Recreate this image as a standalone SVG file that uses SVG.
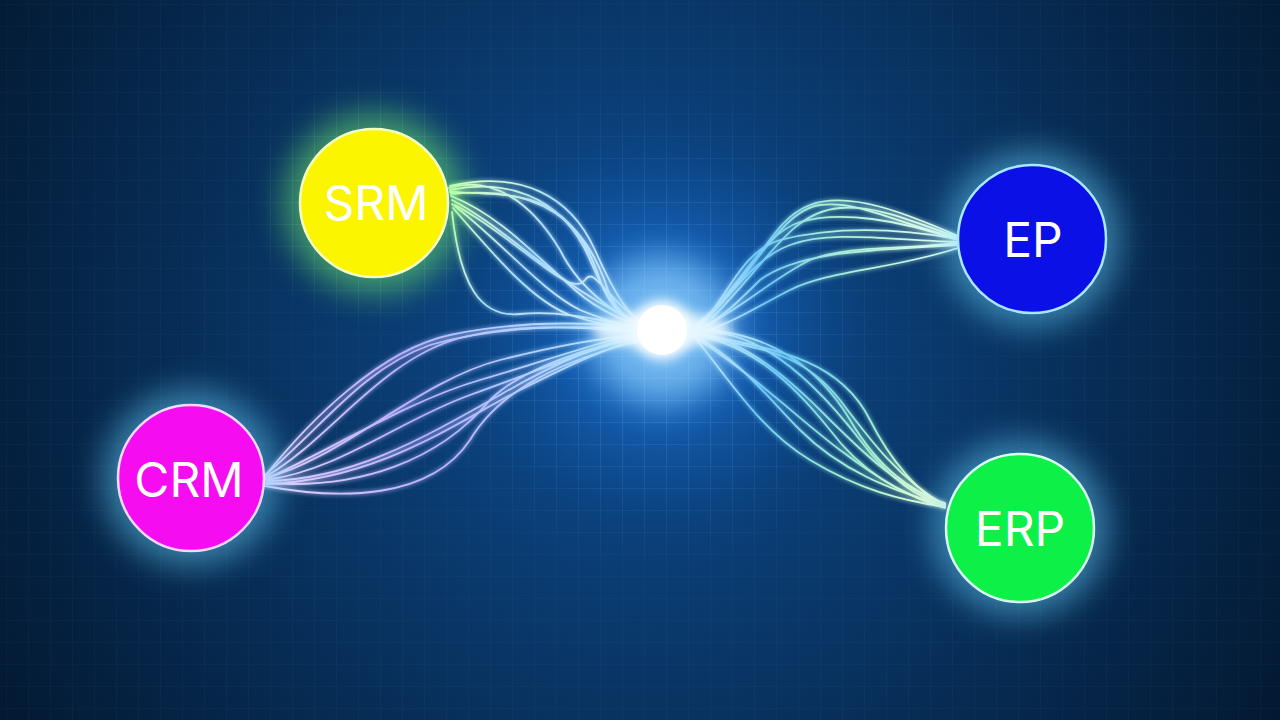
<svg xmlns="http://www.w3.org/2000/svg" width="1280" height="720" viewBox="0 0 1280 720">
<defs>
<radialGradient id="bg" cx="640" cy="330" r="760" gradientUnits="userSpaceOnUse">
<stop offset="0" stop-color="#0d4f98"/>
<stop offset="0.35" stop-color="#0a3b70"/>
<stop offset="0.7" stop-color="#06284d"/>
<stop offset="1" stop-color="#031830"/>
</radialGradient>
<radialGradient id="hubGlow" cx="662" cy="330" r="210" gradientUnits="userSpaceOnUse">
<stop offset="0" stop-color="#5ab8ff" stop-opacity="0.95"/>
<stop offset="0.3" stop-color="#1e78e0" stop-opacity="0.65"/>
<stop offset="1" stop-color="#0d4f98" stop-opacity="0"/>
</radialGradient>
<radialGradient id="gridMaskGrad" cx="662" cy="330" r="240" gradientUnits="userSpaceOnUse">
<stop offset="0" stop-color="#fff" stop-opacity="1"/>
<stop offset="1" stop-color="#fff" stop-opacity="0"/>
</radialGradient>
<radialGradient id="srmGridGrad" cx="374" cy="203" r="130" gradientUnits="userSpaceOnUse">
<stop offset="0" stop-color="#fff" stop-opacity="1"/>
<stop offset="1" stop-color="#fff" stop-opacity="0"/>
</radialGradient>
<pattern id="grid" width="22" height="22" patternUnits="userSpaceOnUse" x="7" y="5">
<path d="M22 0 V22 M0 22 H22" fill="none" stroke="#8cc8ff" stroke-width="1.2"/>
</pattern>
<pattern id="gridG" width="22" height="22" patternUnits="userSpaceOnUse" x="7" y="5">
<path d="M22 0 V22 M0 22 H22" fill="none" stroke="#b8ffa0" stroke-width="1.2"/>
</pattern>
<mask id="gridMask">
<rect width="1280" height="720" fill="url(#gridMaskGrad)"/>
</mask>
<mask id="srmGridMask">
<rect width="1280" height="720" fill="url(#srmGridGrad)"/>
</mask>
<filter id="blur20" x="-1" y="-1" width="3" height="3"><feGaussianBlur stdDeviation="16"/></filter>
<filter id="blur6" x="-1" y="-1" width="3" height="3"><feGaussianBlur stdDeviation="6"/></filter>
<filter id="strandGlow" x="-0.2" y="-0.2" width="1.4" height="1.4">
<feGaussianBlur in="SourceGraphic" stdDeviation="2.2" result="b"/>
<feMerge><feMergeNode in="b"/><feMergeNode in="SourceGraphic"/></feMerge>
</filter>
<linearGradient id="gSRM" x1="450" y1="200" x2="660" y2="330" gradientUnits="userSpaceOnUse">
<stop offset="0" stop-color="#d8ffc8"/>
<stop offset="0.4" stop-color="#a8dcff"/>
<stop offset="1" stop-color="#e8f6ff"/>
</linearGradient>
<linearGradient id="gCRM" x1="265" y1="480" x2="660" y2="330" gradientUnits="userSpaceOnUse">
<stop offset="0" stop-color="#e0d0ff"/>
<stop offset="0.4" stop-color="#b8b0ff"/>
<stop offset="0.8" stop-color="#b0dcff"/>
<stop offset="1" stop-color="#ffffff"/>
</linearGradient>
<linearGradient id="gEP" x1="958" y1="240" x2="690" y2="330" gradientUnits="userSpaceOnUse">
<stop offset="0" stop-color="#e8fff0"/>
<stop offset="0.4" stop-color="#a8f0d8"/>
<stop offset="0.7" stop-color="#70c8f8"/>
<stop offset="1" stop-color="#e8f6ff"/>
</linearGradient>
<linearGradient id="gERP" x1="945" y1="505" x2="690" y2="330" gradientUnits="userSpaceOnUse">
<stop offset="0" stop-color="#f0ffd8"/>
<stop offset="0.3" stop-color="#a0f0d0"/>
<stop offset="0.7" stop-color="#70ccf8"/>
<stop offset="1" stop-color="#e8f6ff"/>
</linearGradient>
<style>
.strand{fill:none;stroke-width:1.8;stroke-linecap:round}
.srm{stroke:url(#gSRM)}
.crm{stroke:url(#gCRM)}
.ep{stroke:url(#gEP)}
.erp{stroke:url(#gERP)}
.node{stroke-width:2.5}
.label{font-family:Inter,"Noto Sans","Liberation Sans",sans-serif;font-size:48px;font-weight:400;fill:#ffffff;text-anchor:middle}
</style>
</defs>

<g id="background">
<rect width="1280" height="720" fill="url(#bg)"/>
<rect width="1280" height="720" fill="url(#grid)" opacity="0.06"/>
<rect width="1280" height="720" fill="url(#hubGlow)"/>
<rect width="1280" height="720" fill="url(#grid)" opacity="0.38" mask="url(#gridMask)"/>
<rect width="1280" height="720" fill="url(#gridG)" opacity="0.3" mask="url(#srmGridMask)"/>
</g>

<g id="connectors" filter="url(#strandGlow)">
<g id="srm-strands">
<path class="strand srm" d="M450,190 C500,180 560,190 590,260 S640,325 655,328"/>
<path class="strand srm" d="M450,192 C520,195 570,190 600,280 C610,310 630,325 655,330"/>
<path class="strand srm" d="M449,188 C490,175 530,200 560,250 C580,290 620,320 652,327"/>
<path class="strand srm" d="M451,196 C500,215 540,260 575,290 C600,312 630,324 652,329"/>
<path class="strand srm" d="M452,200 C510,230 560,290 650,328"/>
<path class="strand srm" d="M452,204 C500,240 540,290 580,310 C610,322 630,328 650,331"/>
<path class="strand srm" d="M453,208 C490,250 530,300 570,315 C610,328 635,330 650,332"/>
<path class="strand srm" d="M452,212 C460,285 480,318 520,314 C560,310 600,320 650,330"/>
<path class="strand srm" d="M455,205 C520,240 570,300 585,280 C595,265 605,300 650,328"/>
<path class="strand srm" d="M451,194 C540,185 585,220 608,290 C618,315 635,326 654,329"/>
<path class="strand srm" d="M450,186 C520,170 570,195 595,250 C615,295 630,320 652,328"/>
</g>
<g id="crm-strands">
<path class="strand crm" d="M265,475 C320,430 360,370 430,345 C500,325 580,325 645,330"/>
<path class="strand crm" d="M265,477 C330,440 380,360 460,338 C530,320 600,330 648,332"/>
<path class="strand crm" d="M265,476 C310,420 380,350 450,335 C520,320 590,322 646,328"/>
<path class="strand crm" d="M266,480 C340,470 400,420 470,395 C540,370 600,345 648,334"/>
<path class="strand crm" d="M266,479 C330,450 410,400 480,380 C550,360 600,340 648,333"/>
<path class="strand crm" d="M266,483 C360,490 440,460 490,400 C520,370 590,345 650,336"/>
<path class="strand crm" d="M265,486 C340,500 430,500 470,440 C500,390 560,360 650,338"/>
<path class="strand crm" d="M266,481 C350,480 420,440 500,395 C560,360 610,340 650,335"/>
<path class="strand crm" d="M266,484 C380,480 460,420 520,390 C570,365 610,345 650,337"/>
<path class="strand crm" d="M265,478 C340,460 420,380 500,360 C560,345 600,338 648,334"/>
</g>
<g id="ep-strands">
<path class="strand ep" d="M958,238 C900,225 860,200 820,205 C780,210 750,280 700,325"/>
<path class="strand ep" d="M958,240 C900,220 840,210 800,222 C760,235 740,290 695,327"/>
<path class="strand ep" d="M958,242 C890,240 830,230 790,245 C750,260 730,300 695,330"/>
<path class="strand ep" d="M958,245 C880,250 800,250 760,280 C740,300 720,320 695,332"/>
<path class="strand ep" d="M958,236 C910,215 850,190 810,205 C770,220 760,270 700,322"/>
<path class="strand ep" d="M958,248 C890,270 830,270 790,290 C760,305 730,325 695,334"/>
<path class="strand ep" d="M958,239 C880,225 820,230 780,240 C740,252 730,295 697,329"/>
<path class="strand ep" d="M958,243 C900,250 850,245 810,260 C770,280 740,310 696,331"/>
<path class="strand ep" d="M958,237 C920,225 880,205 840,208 C790,212 770,260 712,318"/>
</g>
<g id="erp-strands">
<path class="strand erp" d="M695,332 C740,340 780,370 820,410 C860,450 900,490 945,503"/>
<path class="strand erp" d="M695,334 C760,350 800,350 840,400 C870,440 900,480 945,505"/>
<path class="strand erp" d="M695,336 C740,360 770,400 800,430 C840,470 890,490 945,506"/>
<path class="strand erp" d="M695,330 C770,330 820,370 850,420 C880,470 910,490 945,504"/>
<path class="strand erp" d="M695,338 C730,380 760,430 810,460 C860,490 900,500 945,507"/>
<path class="strand erp" d="M695,333 C780,350 840,360 870,420 C890,460 920,495 945,505"/>
<path class="strand erp" d="M695,335 C750,345 790,380 830,430 C860,470 900,495 945,506"/>
<path class="strand erp" d="M695,337 C760,380 800,420 840,450 C880,480 910,498 945,508"/>
<path class="strand erp" d="M695,331 C740,330 790,350 860,440 C890,480 920,500 945,504"/>
</g>
</g>

<g id="hub">
<circle cx="662" cy="330" r="75" fill="#9ad8ff" opacity="0.6" filter="url(#blur20)"/>
<ellipse cx="662" cy="330" rx="70" ry="18" fill="#e8f8ff" opacity="0.9" filter="url(#blur6)"/>
<circle cx="662" cy="330" r="30" fill="#f4fbff" filter="url(#blur6)"/>
<circle cx="662" cy="330" r="25" fill="#ffffff"/>
</g>

<g id="node-srm">
<circle cx="374" cy="203" r="90" fill="#7cff70" opacity="0.5" filter="url(#blur20)"/>
<circle class="node" cx="374" cy="203" r="74" fill="#fbf500" stroke="#f2ffc8"/>
<text class="label" x="376" y="220">SRM</text>
</g>

<g id="node-ep">
<circle cx="1032" cy="239" r="88" fill="#6ad6ff" opacity="0.5" filter="url(#blur20)"/>
<circle class="node" cx="1032" cy="239" r="74" fill="#0a10e6" stroke="#a8e8ff"/>
<text class="label" x="1033" y="257">EP</text>
</g>

<g id="node-crm">
<circle cx="191" cy="478" r="88" fill="#6ad6ff" opacity="0.5" filter="url(#blur20)"/>
<circle class="node" cx="191" cy="478" r="73" fill="#f50cf0" stroke="#f8d8ff"/>
<text class="label" x="189" y="497">CRM</text>
</g>

<g id="node-erp">
<circle cx="1020" cy="528" r="88" fill="#6ad6ff" opacity="0.5" filter="url(#blur20)"/>
<circle class="node" cx="1020" cy="528" r="74" fill="#0cf048" stroke="#d8fff0"/>
<text class="label" x="1020" y="546">ERP</text>
</g>
</svg>
